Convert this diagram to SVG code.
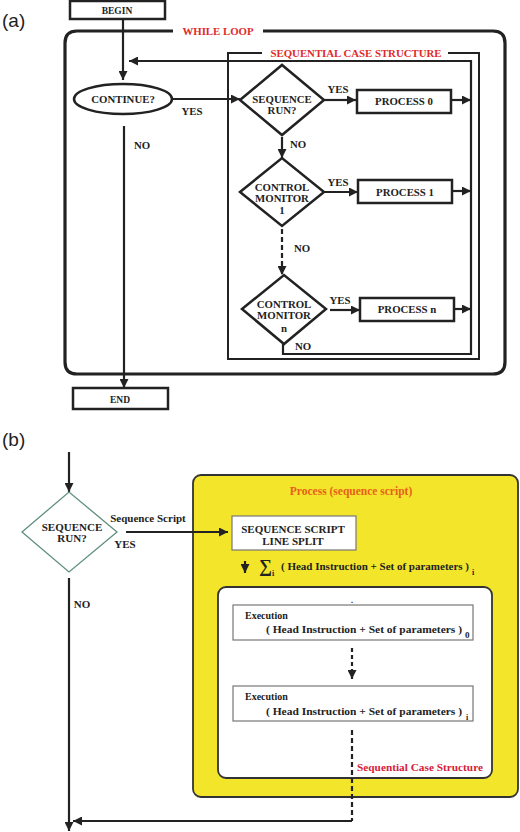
<svg xmlns="http://www.w3.org/2000/svg" width="520" height="832" viewBox="0 0 520 832">
<style>
text{font-family:"Liberation Serif","Times New Roman",serif;font-weight:bold;fill:#222;}
.c{text-anchor:middle;}
.a{font-size:10.8px;}
.lbl{font-family:"Liberation Sans",Arial,sans-serif;font-weight:normal;font-size:19px;fill:#222;}
.red{fill:#e02a2a;}
.box{fill:#fff;stroke:#222;stroke-width:2.5;}
.ln{fill:none;stroke:#222;stroke-width:2.2;}
.bx{fill:#fff;stroke:#777;stroke-width:1.2;}
.b{font-size:11px;}
.p{font-size:10px;}
</style>
<defs>
<marker id="ah" viewBox="0 0 10 10" refX="10" refY="5" markerWidth="9" markerHeight="9" markerUnits="userSpaceOnUse" orient="auto"><path d="M0,0 L10,5 L0,10 z" fill="#222"/></marker>
</defs>

<text class="lbl" x="2" y="27">(a)</text>
<text class="lbl" x="2" y="446">(b)</text>

<!-- containers (a) -->
<g id="while-loop">
<path d="M173,31 H77 Q65,31 65,43 V362 Q65,374 77,374 H493 Q505,374 505,362 V43 Q505,31 493,31 H263" fill="none" stroke="#222" stroke-width="3.2"/>
<text class="a red c" x="218" y="35">WHILE LOOP</text>
</g>
<g id="sequential-case-structure-a">
<path d="M262,53 H228 V359 H479 V53 H448" fill="none" stroke="#222" stroke-width="2"/>
<text class="a red c" x="356" y="57">SEQUENTIAL CASE STRUCTURE</text>
</g>

<!-- (b) containers -->
<g id="process-sequence-script">
<rect x="193" y="475" width="325" height="322" rx="8" fill="#f3e52a" stroke="#333" stroke-width="1.8"/>
<text class="c" x="351" y="494.5" style="font-size:11.5px;fill:#e8601c">Process (sequence script)</text>
</g>
<g id="sequential-case-structure-b">
<rect x="218" y="587" width="274" height="191" rx="8" fill="#fff" stroke="#333" stroke-width="1.8"/>
<text class="c" x="352" y="603" style="font-size:8px">.</text>
<text class="c" x="420" y="770.5" style="font-size:11.3px;fill:#d8203a">Sequential Case Structure</text>
</g>

<!-- connectors -->
<g id="connectors">
<path class="ln" d="M123,19 V80" marker-end="url(#ah)"/>
<path class="ln" d="M172,99 H240" marker-end="url(#ah)"/>
<path class="ln" d="M124,126 V388" marker-end="url(#ah)"/>
<path class="ln" d="M324,100 H356" marker-end="url(#ah)"/>
<path class="ln" d="M451,100 H471" marker-end="url(#ah)"/>
<path class="ln" d="M282,137 V158" stroke-width="3" marker-end="url(#ah)"/>
<path class="ln" d="M324,192 H358" marker-end="url(#ah)"/>
<path class="ln" d="M452,191 H471" marker-end="url(#ah)"/>
<path class="ln" d="M282,229 V275" stroke-width="3" stroke-dasharray="5,3" marker-end="url(#ah)"/>
<path class="ln" d="M330,310 H360" marker-end="url(#ah)"/>
<path class="ln" d="M454,309 H471" marker-end="url(#ah)"/>
<path class="ln" d="M283,344 V354 H471 V61 H129" marker-end="url(#ah)"/>

<path class="ln" d="M69,452 V492" marker-end="url(#ah)"/>
<path class="ln" d="M126,532 H228" stroke-width="1.6" marker-end="url(#ah)"/>
<path class="ln" d="M69,578 V831" marker-end="url(#ah)"/>
<path class="ln" d="M245,561 V573" stroke-width="3.2" marker-end="url(#ah)"/>
<path class="ln" d="M352,648 V679" stroke-width="2.4" stroke-dasharray="4,3" marker-end="url(#ah)"/>
<path class="ln" d="M352,730 V821" stroke-width="2.6" stroke-dasharray="5,3"/>
<path class="ln" d="M352,821 H73" stroke-width="1.8" marker-end="url(#ah)"/>

<text class="a c" x="192" y="115">YES</text>
<text class="a c" x="142" y="149">NO</text>
<text class="a c" x="338" y="93">YES</text>
<text class="a c" x="298" y="148">NO</text>
<text class="a c" x="338" y="186">YES</text>
<text class="a c" x="302" y="252">NO</text>
<text class="a c" x="340" y="304">YES</text>
<text class="a c" x="303" y="350">NO</text>

<text class="b c" x="148" y="521.5">Sequence Script</text>
<text class="b c" x="125" y="548">YES</text>
<text class="b c" x="82" y="608">NO</text>
</g>

<!-- nodes (a) -->
<g id="begin">
<rect class="box" x="70" y="1" width="95" height="18"/>
<text class="a c" x="117" y="13.5" style="font-size:9.5px">BEGIN</text>
</g>
<g id="continue">
<ellipse cx="123" cy="99" rx="49" ry="15" fill="#fff" stroke="#222" stroke-width="2.5"/>
<text class="a c" x="123" y="103">CONTINUE?</text>
</g>
<g id="end">
<rect class="box" x="73" y="388" width="95" height="21"/>
<text class="a c" x="120" y="402.5" style="font-size:9.5px">END</text>
</g>
<g id="sequence-run-a">
<polygon points="240,100 282,65 324,100 282,135" fill="#fff" stroke="#222" stroke-width="2.5"/>
<text class="a c" x="282" y="103">SEQUENCE</text>
<text class="a c" x="282" y="114">RUN?</text>
</g>
<g id="process-0">
<rect class="box" x="357" y="90" width="94" height="23"/>
<text class="a c" x="404" y="105">PROCESS 0</text>
</g>
<g id="control-monitor-1">
<polygon points="240,192 282,158 324,192 282,226" fill="#fff" stroke="#222" stroke-width="2.5"/>
<text class="a c" x="282" y="191">CONTROL</text>
<text class="a c" x="282" y="202">MONITOR</text>
<text class="a c" x="282" y="214">1</text>
</g>
<g id="process-1">
<rect class="box" x="358" y="180" width="94" height="23"/>
<text class="a c" x="405" y="196">PROCESS 1</text>
</g>
<g id="control-monitor-n">
<polygon points="242,309 284,275 326,309 284,344" fill="#fff" stroke="#222" stroke-width="2.5"/>
<text class="a c" x="284" y="308">CONTROL</text>
<text class="a c" x="284" y="319">MONITOR</text>
<text class="a c" x="284" y="332">n</text>
</g>
<g id="process-n">
<rect class="box" x="360" y="298" width="94" height="23"/>
<text class="a c" x="407" y="313">PROCESS n</text>
</g>

<!-- nodes (b) -->
<g id="sequence-run-b">
<polygon points="22,532 69,492 117,532 69,572" fill="#fff" stroke="#5e8f80" stroke-width="1.3"/>
<text class="b c" x="72" y="531">SEQUENCE</text>
<text class="b c" x="72" y="542">RUN?</text>
</g>
<g id="line-split">
<rect class="bx" x="232" y="516" width="124" height="34"/>
<text class="b c" x="293" y="533">SEQUENCE SCRIPT</text>
<text class="b c" x="293" y="545">LINE SPLIT</text>
</g>
<g id="sum">
<text x="259" y="572" style="font-size:18px">∑</text>
<text x="272" y="576" style="font-size:8px">i</text>
<text x="281" y="570" class="p" textLength="188" lengthAdjust="spacingAndGlyphs">( Head Instruction + Set of parameters )</text>
<text x="472" y="575" style="font-size:8px">i</text>
</g>
<g id="execution-0">
<rect class="bx" x="233" y="605" width="240" height="35"/>
<text x="245" y="619" class="p">Execution</text>
<text x="266" y="632.5" class="p" textLength="196" lengthAdjust="spacingAndGlyphs">( Head Instruction + Set of parameters )</text>
<text x="465" y="638" style="font-size:9px">0</text>
</g>
<g id="execution-i">
<rect class="bx" x="233" y="686" width="240" height="35"/>
<text x="245" y="699.5" class="p">Execution</text>
<text x="266" y="715" class="p" textLength="196" lengthAdjust="spacingAndGlyphs">( Head Instruction + Set of parameters )</text>
<text x="466" y="720" style="font-size:8px">i</text>
</g>
</svg>
